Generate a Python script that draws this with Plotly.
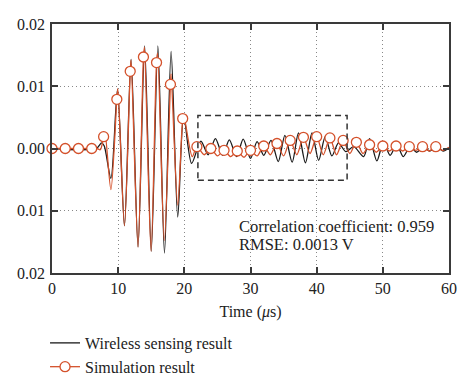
import plotly.graph_objects as go

# ---- data ----
wireless_t = [0, 6.7, 7.5, 7.9, 8.9, 9.9, 10.95, 11.95, 13.0, 14.0, 15.0, 16.0, 17.0, 18.0, 19.0, 19.9,
              21.1, 22.5, 23.6, 24.7, 25.8, 26.8, 27.9, 28.9, 30.0, 31.0, 32.0, 33.1, 34.2, 35.2, 36.3,
              37.25, 38.3, 39.3, 40.3, 41.3, 42.3, 43.3, 44.4, 45.6, 47.1, 48.0, 49.1, 50.1, 51.1, 52.1,
              53.1, 54.1, 55.1, 56.1, 57.1, 58.1, 59.1, 60]
wireless_v = [0, 0, 0.0009, 0.0004, -0.0048, 0.0095, -0.0124, 0.0143, -0.0158, 0.0165, -0.0165, 0.0165,
              -0.0168, 0.0156, -0.0110, 0.0052,
              -0.0024, 0.0012, -0.0010, 0.0016, -0.0011, 0.0014, -0.0013, 0.0015, -0.0016, 0.0011, -0.0011,
              0.0013, -0.0021, 0.0021, -0.0022,
              0.0025, -0.0023, 0.0025, -0.0019, 0.0019, -0.0012, 0.0009, -0.0005, 0.0003, -0.0013, 0.0016,
              -0.0020, 0.0011, -0.0011, 0.0006,
              -0.0013, 0.0003, -0.0006, 0.0002, -0.0004, 0.0003, -0.0004, 0.0001]

sim_t = [0, 2, 4, 6, 6.8, 7.3, 7.8, 8.0, 8.9, 9.8, 9.95, 10.95, 11.82, 11.95, 13.0, 13.82, 13.97, 14.97,
         15.8, 15.97, 16.97, 17.9, 18.0, 19.0, 19.75, 19.9, 21.2, 21.9, 23.0, 24.0, 25.0, 26.0, 27.0,
         28.0, 29.0, 30.0, 31.0, 32.0, 33.0, 34.0, 35.0, 36.0, 37.0, 38.0, 39.0, 40.0, 41.0, 42.0, 43.0,
         44.0, 45.0, 46.0, 47.0, 48.0, 49.0, 50.0, 51.0, 52.0, 53.0, 54.0, 55.0, 56.0, 57.0, 58.0, 59.0, 60.0]
sim_v = [0, 0, 0, 0, 0, -0.0002, 0.0019, 0.0026, -0.0066, 0.0079, 0.0096, -0.0124, 0.0124, 0.0142, -0.0158,
         0.0147, 0.0163, -0.0165,
         0.0138, 0.0153, -0.0148, 0.0103, 0.0120, -0.0091, 0.0048, 0.0054, -0.0013, 0.0003, -0.0010, 0.0000,
         -0.0012, -0.0003, -0.0013,
         -0.0004, -0.0014, -0.0003, -0.0012, 0.0004, -0.0010, 0.0008, -0.0012, 0.0013, -0.0010, 0.0018,
         -0.0008, 0.0019, -0.0010, 0.0017, -0.0010,
         0.0013, -0.0008, 0.0010, -0.0008, 0.0006, -0.0006, 0.0004, -0.0004, 0.0004, -0.0004, 0.0003,
         -0.0003, 0.0003, -0.0004, 0.0003, -0.0003, 0.0002]

sim_marker_t = [0, 2, 4, 6, 7.8, 9.8, 11.82, 13.82, 15.8, 17.9, 19.75, 21.9, 24.0, 26.0, 28.0, 30.0, 32.0,
                34.0, 36.0, 38.0, 40.0, 42.0, 44.0, 46.0, 48.0, 50.0, 52.0, 54.0, 56.0, 58.0]

x_ticks = [0, 10, 20, 30, 40, 50, 60]
y_ticks = [-0.02, -0.01, 0.0, 0.01, 0.02]
y_ticktext = ["0.02", "0.01", "0.00", "0.01", "0.02"]

series_names = ["Wireless sensing result", "Simulation result"]
note_lines = ["Correlation coefficient: 0.959", "RMSE: 0.0013 V"]
x_title = "Time (<i>μ</i>s)"
zoom_box = (22.05, 44.6, -0.0051, 0.0053)

assert len(wireless_t) == len(wireless_v)
assert len(sim_t) == len(sim_v)
sim_lookup = dict(zip(sim_t, sim_v))
sim_marker_v = [sim_lookup[t] for t in sim_marker_t]

# ---- styling ----
RED = "#D4512B"
BLACK = "#1a1a1a"
FONT = "Liberation Serif"
AXIS_COLOR = "#3a3a3a"
TXT = "#222222"

fig = go.Figure()

fig.add_trace(go.Scatter(x=wireless_t, y=wireless_v, mode="lines",
                         line=dict(color=BLACK, width=1.3, shape="spline", smoothing=0.8),
                         showlegend=False, hoverinfo="skip"))
fig.add_trace(go.Scatter(x=sim_t, y=sim_v, mode="lines",
                         line=dict(color=RED, width=1.3, shape="spline", smoothing=0.8),
                         showlegend=False, hoverinfo="skip"))
fig.add_trace(go.Scatter(x=sim_marker_t, y=sim_marker_v, mode="markers",
                         marker=dict(symbol="circle", size=10, color="white",
                                     line=dict(color=RED, width=1.3)),
                         showlegend=False, hoverinfo="skip", cliponaxis=False))

# legend entries
fig.add_trace(go.Scatter(x=[None], y=[None], mode="lines", name=series_names[0],
                         line=dict(color=BLACK, width=1.3)))
fig.add_trace(go.Scatter(x=[None], y=[None], mode="lines+markers", name=series_names[1],
                         line=dict(color=RED, width=1.3),
                         marker=dict(symbol="circle", size=10, color="white",
                                     line=dict(color=RED, width=1.3))))

x0, x1, y0, y1 = zoom_box
fig.add_shape(type="rect", xref="x", yref="y", x0=x0, x1=x1, y0=y0, y1=y1,
              line=dict(color="#333333", width=1.5, dash="6px,4px"))

fig.add_annotation(text=note_lines[0], xref="x", yref="y", x=27.9, y=-0.0126,
                   xanchor="left", yanchor="middle", showarrow=False,
                   font=dict(family=FONT, size=16.5, color=TXT))
fig.add_annotation(text=note_lines[1], xref="x", yref="y", x=27.9, y=-0.0154,
                   xanchor="left", yanchor="middle", showarrow=False,
                   font=dict(family=FONT, size=16.5, color=TXT))

axis_common = dict(showline=True, linecolor=AXIS_COLOR, linewidth=1.5, mirror="ticks",
                   ticks="inside", ticklen=6, tickwidth=1.5, tickcolor=AXIS_COLOR,
                   showgrid=True, gridcolor="#888888", gridwidth=1, griddash="1px,3px",
                   zeroline=False, tickfont=dict(family=FONT, size=16, color=TXT))

fig.update_xaxes(range=[0, 60], tickvals=x_ticks, **axis_common,
                 title=dict(text=x_title, font=dict(family=FONT, size=16, color=TXT), standoff=10))
fig.update_yaxes(range=[-0.02, 0.02], tickvals=y_ticks, ticktext=y_ticktext,
                 ticklabelstandoff=2, **axis_common)

fig.update_layout(
    width=474, height=389,
    margin=dict(l=51.7, r=25, t=24, b=116.3, autoexpand=False),
    paper_bgcolor="white", plot_bgcolor="white",
    font=dict(family=FONT, size=16, color=TXT),
    showlegend=True,
    legend=dict(xref="container", yref="container", x=0.095, y=0.162,
                xanchor="left", yanchor="top",
                bgcolor="rgba(0,0,0,0)", font=dict(family=FONT, size=16, color=TXT),
                tracegroupgap=0, itemwidth=30),
)

fig.write_html("out.html", config={"displayModeBar": False},
               post_script="document.body.style.margin='0px';")
